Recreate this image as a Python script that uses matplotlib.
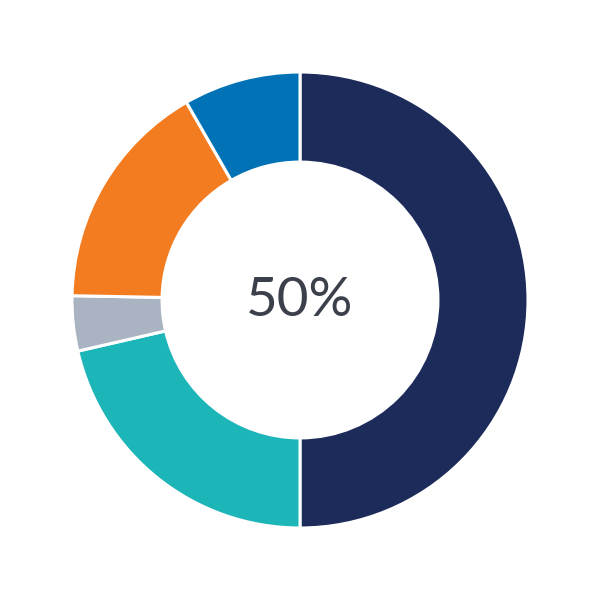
import matplotlib
matplotlib.use("Agg")
import matplotlib.pyplot as plt

labels = ["A", "B", "C", "D", "E"]
values = [50, 21.4, 3.9, 16.4, 8.3]
colors = ["#1c2b5a", "#1cb5b8", "#a9b3c2", "#f47c20", "#0072b5"]
center_text = "50%"

fig = plt.figure(figsize=(6, 6), dpi=100)
ax = fig.add_axes([0, 0, 1, 1])
ax.pie(values, colors=colors, startangle=90, counterclock=False,
       radius=1.0, wedgeprops=dict(width=0.395, edgecolor="white", linewidth=2.2))
lim = 300 / 228
ax.set_xlim(-lim, lim)
ax.set_ylim(-lim, lim)
ax.set_aspect("equal")
ax.axis("off")
ax.text(0, 0, center_text, ha="center", va="center", fontsize=39.5,
        family=["Lato", "DejaVu Sans"], color="#3b404b")
fig.savefig("out.png", dpi=100)
